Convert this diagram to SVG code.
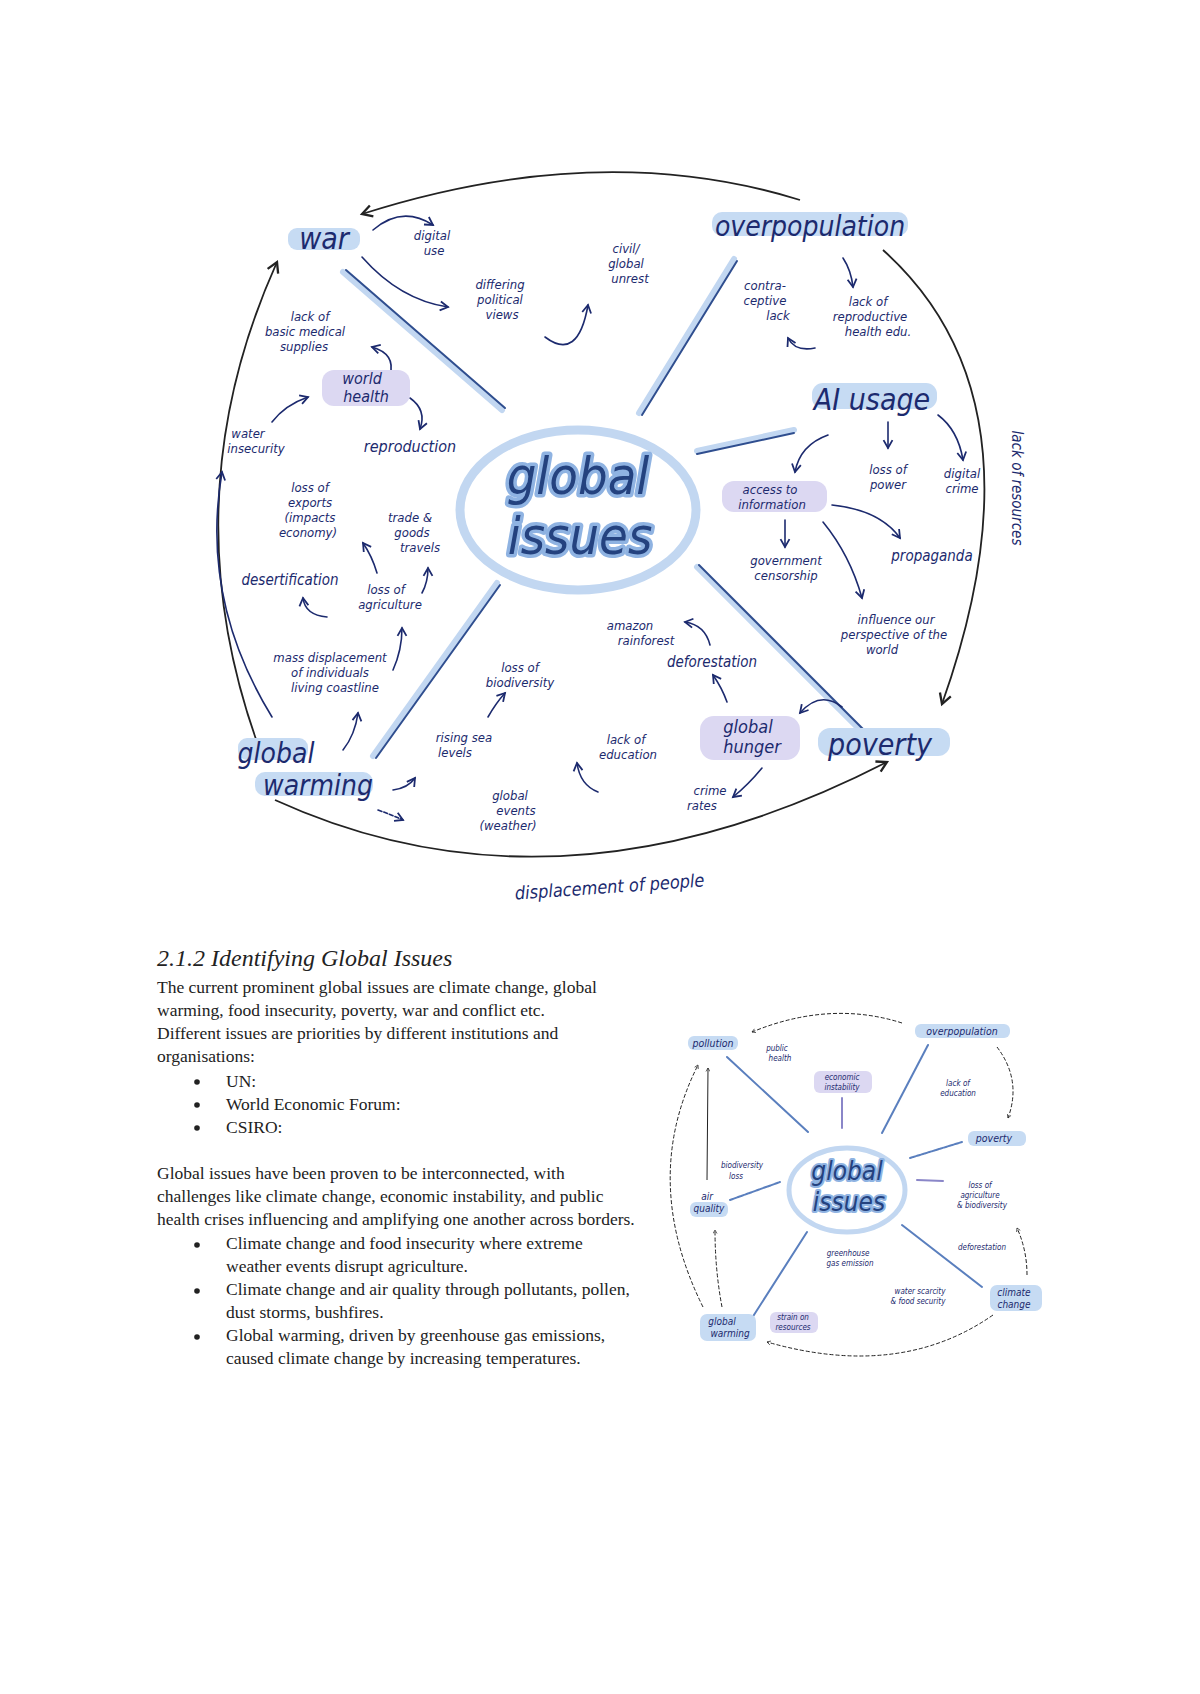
<svg xmlns="http://www.w3.org/2000/svg" width="1200" height="1694" viewBox="0 0 1200 1694">
<defs>
<style>
.hw{font-family:"Liberation Sans Narrow","DejaVu Sans Condensed","Liberation Sans",sans-serif;fill:#1c2a6e;font-style:italic}
.s{font-size:13px}
.xs{font-size:8px}
.big{font-size:30px}
.ctr{font-family:"Liberation Sans Narrow","DejaVu Sans Condensed",sans-serif;font-style:italic;fill:#24427f;stroke:#8fb3e2;stroke-width:7px;paint-order:stroke;stroke-linejoin:round}
.hb{fill:#c6dbf3}
.hp{fill:#dcd8f2}
.ln{fill:none;stroke:#1c2a6e;stroke-width:1.6;stroke-linecap:round}
.lk{fill:none;stroke:#222;stroke-width:1.8}
.dl{fill:none;stroke:#222;stroke-width:1;stroke-dasharray:4 2}
.spl{stroke:#c2d7f1;stroke-width:6;stroke-linecap:round}
.spd{stroke:#2f4e8f;stroke-width:2;stroke-linecap:round}
.body{font-family:"Liberation Serif",serif;font-size:17.5px;fill:#222}
</style>
<marker id="ah" viewBox="0 0 10 10" refX="8" refY="5" markerWidth="7" markerHeight="7" orient="auto-start-reverse"><path d="M1,1 L8,5 L1,9" fill="none" stroke="#1c2a6e" stroke-width="1.6"/></marker>
<marker id="ak" viewBox="0 0 10 10" refX="8" refY="5" markerWidth="8" markerHeight="8" orient="auto-start-reverse"><path d="M1,1 L8,5 L1,9" fill="none" stroke="#222" stroke-width="1.6"/></marker>
<marker id="as" viewBox="0 0 10 10" refX="8" refY="5" markerWidth="5" markerHeight="5" orient="auto-start-reverse"><path d="M1,1 L8,5 L1,9" fill="none" stroke="#222" stroke-width="1.4"/></marker>
</defs>
<rect width="1200" height="1694" fill="#fff"/>

<g id="connectors">
<path class="lk" d="M800,200 Q600,138 362,214" marker-end="url(#ak)"/>
<path class="lk" d="M883,250 Q1050,400 942,704" marker-end="url(#ak)"/>
<path class="lk" d="M275,800 Q560,930 887,762" marker-end="url(#ak)"/>
<path class="lk" d="M258,745 Q170,500 277,262" marker-end="url(#ak)"/>
<path class="ln" d="M272,717 Q200,600 222,472" marker-end="url(#ah)"/>
<g>
<line class="spl" x1="343" y1="272" x2="502" y2="410"/><line class="spd" x1="346" y1="270" x2="505" y2="408"/>
<line class="spl" x1="734" y1="259" x2="639" y2="413"/><line class="spd" x1="737" y1="261" x2="642" y2="415"/>
<line class="spl" x1="794" y1="430" x2="697" y2="451"/><line class="spd" x1="794" y1="433" x2="697" y2="454"/>
<line class="spl" x1="697" y1="567" x2="864" y2="734"/><line class="spd" x1="699" y1="565" x2="866" y2="732"/>
<line class="spl" x1="497" y1="583" x2="373" y2="756"/><line class="spd" x1="500" y1="585" x2="376" y2="758"/>
</g>
<path class="ln" d="M373,230 Q402,205 433,225" marker-end="url(#ah)"/>
<path class="ln" d="M362,257 Q400,300 448,307" marker-end="url(#ah)"/>
<path class="ln" d="M545,337 Q578,362 588,305" marker-end="url(#ah)"/>
<path class="ln" d="M390,375 Q396,354 372,347" marker-end="url(#ah)"/>
<path class="ln" d="M410,398 Q427,410 420,429" marker-end="url(#ah)"/>
<path class="ln" d="M272,422 Q285,405 308,397" marker-end="url(#ah)"/>
<path class="ln" d="M377,573 Q372,556 363,543" marker-end="url(#ah)"/>
<path class="ln" d="M422,593 Q428,582 428,568" marker-end="url(#ah)"/>
<path class="ln" d="M327,617 Q305,615 303,598" marker-end="url(#ah)"/>
<path class="ln" d="M393,670 Q402,650 402,628" marker-end="url(#ah)"/>
<path class="ln" d="M343,750 Q355,735 358,713" marker-end="url(#ah)"/>
<path class="ln" d="M488,717 Q496,703 505,693" marker-end="url(#ah)"/>
<path class="ln" d="M393,790 Q408,788 415,778" marker-end="url(#ah)"/>
<path class="ln" d="M378,810 Q392,815 403,820" marker-end="url(#ah)" stroke-dasharray="4 2"/>
<path class="ln" d="M828,435 Q800,445 795,472" marker-end="url(#ah)"/>
<path class="ln" d="M888,422 L888,448" marker-end="url(#ah)"/>
<path class="ln" d="M938,415 Q958,430 963,460" marker-end="url(#ah)"/>
<path class="ln" d="M843,258 Q851,270 853,287" marker-end="url(#ah)"/>
<path class="ln" d="M815,348 Q795,352 788,338" marker-end="url(#ah)"/>
<path class="ln" d="M785,520 L785,547" marker-end="url(#ah)"/>
<path class="ln" d="M832,505 Q880,510 900,538" marker-end="url(#ah)"/>
<path class="ln" d="M823,522 Q850,555 862,598" marker-end="url(#ah)"/>
<path class="ln" d="M842,707 Q820,690 800,713" marker-end="url(#ah)"/>
<path class="ln" d="M727,702 Q722,688 713,675" marker-end="url(#ah)"/>
<path class="ln" d="M710,645 Q705,625 685,622" marker-end="url(#ah)"/>
<path class="ln" d="M762,768 Q748,785 733,797" marker-end="url(#ah)"/>
<path class="ln" d="M598,792 Q580,785 577,763" marker-end="url(#ah)"/>
</g>

<g id="center">
<ellipse cx="578" cy="510" rx="118" ry="80" fill="none" stroke="#c2d7f1" stroke-width="9"/>
<text class="ctr" x="578" y="494" font-size="52" text-anchor="middle">global</text>
<text class="ctr" x="580" y="554" font-size="52" text-anchor="middle">issues</text>
</g>

<g id="war"><rect class="hb" x="288" y="228" width="72" height="22" rx="9"/><text class="hw big" x="324" y="249" text-anchor="middle">war</text></g>
<g id="overpopulation"><rect class="hb" x="712" y="212" width="196" height="24" rx="10"/><text class="hw" font-size="28" x="810" y="236" text-anchor="middle">overpopulation</text></g>
<g id="ai-usage"><rect class="hb" x="812" y="383" width="125" height="26" rx="11"/><text class="hw big" x="872" y="410" text-anchor="middle">AI usage</text></g>
<g id="poverty"><rect class="hb" x="818" y="728" width="132" height="28" rx="12"/><text class="hw big" x="880" y="755" text-anchor="middle">poverty</text></g>
<g id="global-warming"><rect class="hb" x="238" y="738" width="70" height="22" rx="9"/><rect class="hb" x="255" y="772" width="118" height="24" rx="10"/><text class="hw" font-size="28" x="276" y="763" text-anchor="middle">global</text><text class="hw" font-size="28" x="318" y="795" text-anchor="middle">warming</text></g>
<g id="world-health"><rect class="hp" x="322" y="370" width="88" height="36" rx="12"/><text class="hw" font-size="16" x="362" y="384" text-anchor="middle">world</text><text class="hw" font-size="16" x="366" y="402" text-anchor="middle">health</text></g>
<g id="access-to-information"><rect class="hp" x="722" y="481" width="105" height="31" rx="12"/><text class="hw" font-size="13" x="770" y="494" text-anchor="middle">access to</text><text class="hw" font-size="13" x="772" y="509" text-anchor="middle">information</text></g>
<g id="global-hunger"><rect class="hp" x="700" y="716" width="100" height="44" rx="14"/><text class="hw" font-size="18" x="748" y="733" text-anchor="middle">global</text><text class="hw" font-size="18" x="752" y="753" text-anchor="middle">hunger</text></g>

<g id="sub-labels" class="hw s" text-anchor="middle">
<text x="432" y="240">digital</text><text x="434" y="255">use</text>
<text x="500" y="289">differing</text><text x="500" y="304">political</text><text x="502" y="319">views</text>
<text x="626" y="253">civil/</text><text x="626" y="268">global</text><text x="630" y="283">unrest</text>
<text x="310" y="321">lack of</text><text x="305" y="336">basic medical</text><text x="304" y="351">supplies</text>
<text x="248" y="438">water</text><text x="256" y="453">insecurity</text>
<text x="410" y="452" font-size="16">reproduction</text>
<text x="310" y="492">loss of</text><text x="310" y="507">exports</text><text x="310" y="522">(impacts</text><text x="308" y="537">economy)</text>
<text x="410" y="522">trade &amp;</text><text x="412" y="537">goods</text><text x="420" y="552">travels</text>
<text x="290" y="585" font-size="15">desertification</text>
<text x="386" y="594">loss of</text><text x="390" y="609">agriculture</text>
<text x="330" y="662">mass displacement</text><text x="330" y="677">of individuals</text><text x="335" y="692">living coastline</text>
<text x="520" y="672">loss of</text><text x="520" y="687">biodiversity</text>
<text x="464" y="742">rising sea</text><text x="455" y="757">levels</text>
<text x="510" y="800">global</text><text x="516" y="815">events</text><text x="508" y="830">(weather)</text>
<text x="630" y="630">amazon</text><text x="646" y="645">rainforest</text>
<text x="712" y="667" font-size="15">deforestation</text>
<text x="626" y="744">lack of</text><text x="628" y="759">education</text>
<text x="710" y="795">crime</text><text x="702" y="810">rates</text>
<text x="765" y="290">contra-</text><text x="765" y="305">ceptive</text><text x="778" y="320">lack</text>
<text x="868" y="306">lack of</text><text x="870" y="321">reproductive</text><text x="878" y="336">health edu.</text>
<text x="888" y="474">loss of</text><text x="888" y="489">power</text>
<text x="962" y="478">digital</text><text x="962" y="493">crime</text>
<text x="932" y="561" font-size="15">propaganda</text>
<text x="786" y="565">government</text><text x="786" y="580">censorship</text>
<text x="896" y="624">influence our</text><text x="894" y="639">perspective of the</text><text x="882" y="654">world</text>
</g>
<text class="hw" font-size="15" transform="translate(1012,488) rotate(90)" text-anchor="middle">lack of resources</text>
<text class="hw" font-size="18" transform="translate(610,893) rotate(-4)" text-anchor="middle">displacement of people</text>

<g id="text-block">
<text x="157" y="966" font-family="Liberation Serif,serif" font-size="24" font-style="italic" fill="#222">2.1.2  Identifying Global Issues</text>
<text class="body" x="157" y="993">The current prominent global issues are climate change, global</text>
<text class="body" x="157" y="1016">warming, food insecurity, poverty, war and conflict etc.</text>
<text class="body" x="157" y="1039">Different issues are priorities by different institutions and</text>
<text class="body" x="157" y="1062">organisations:</text>
<circle cx="197" cy="1082" r="2.8" fill="#222"/><text class="body" x="226" y="1087">UN:</text>
<circle cx="197" cy="1105" r="2.8" fill="#222"/><text class="body" x="226" y="1110">World Economic Forum:</text>
<circle cx="197" cy="1128" r="2.8" fill="#222"/><text class="body" x="226" y="1133">CSIRO:</text>
<text class="body" x="157" y="1179">Global issues have been proven to be interconnected, with</text>
<text class="body" x="157" y="1202">challenges like climate change, economic instability, and public</text>
<text class="body" x="157" y="1225">health crises influencing and amplifying one another across borders.</text>
<circle cx="197" cy="1245" r="2.8" fill="#222"/><text class="body" x="226" y="1249">Climate change and food insecurity where extreme</text>
<text class="body" x="226" y="1272">weather events disrupt agriculture.</text>
<circle cx="197" cy="1291" r="2.8" fill="#222"/><text class="body" x="226" y="1295">Climate change and air quality through pollutants, pollen,</text>
<text class="body" x="226" y="1318">dust storms, bushfires.</text>
<circle cx="197" cy="1337" r="2.8" fill="#222"/><text class="body" x="226" y="1341">Global warming, driven by greenhouse gas emissions,</text>
<text class="body" x="226" y="1364">caused climate change by increasing temperatures.</text>
</g>

<g id="small-connectors">
<path class="dl" d="M902,1023 Q830,1000 752,1032" marker-end="url(#as)"/>
<path class="dl" d="M997,1047 Q1022,1080 1008,1118" marker-end="url(#as)"/>
<path class="dl" d="M1027,1275 Q1027,1250 1017,1228" marker-end="url(#as)"/>
<path class="dl" d="M993,1315 Q900,1380 767,1342" marker-end="url(#as)"/>
<path class="dl" d="M703,1307 Q640,1180 698,1065" marker-end="url(#as)"/>
<path class="dl" d="M722,1307 Q715,1270 715,1230" marker-end="url(#as)"/>
<path fill="none" stroke="#222" stroke-width="1" d="M707,1180 L708,1068" marker-end="url(#as)"/>
<g stroke-linecap="round">
<line x1="727" y1="1057" x2="808" y2="1132" stroke="#5a7fbe" stroke-width="2"/>
<line x1="842" y1="1098" x2="842" y2="1128" stroke="#8a86c8" stroke-width="2"/>
<line x1="928" y1="1045" x2="882" y2="1133" stroke="#5a7fbe" stroke-width="2"/>
<line x1="962" y1="1142" x2="910" y2="1158" stroke="#5a7fbe" stroke-width="2" stroke-dasharray="3 1"/>
<line x1="943" y1="1181" x2="917" y2="1180" stroke="#8a86c8" stroke-width="2"/>
<line x1="982" y1="1287" x2="902" y2="1225" stroke="#5a7fbe" stroke-width="2"/>
<line x1="752" y1="1318" x2="807" y2="1232" stroke="#5a7fbe" stroke-width="2"/>
<line x1="730" y1="1200" x2="780" y2="1182" stroke="#5a7fbe" stroke-width="2" stroke-dasharray="3 1"/>
</g>
</g>
<g id="small-center">
<ellipse cx="847" cy="1190" rx="58" ry="42" fill="none" stroke="#c2d7f1" stroke-width="5"/>
<text class="ctr" x="847" y="1180" font-size="26" text-anchor="middle" style="stroke-width:4px">global</text>
<text class="ctr" x="849" y="1211" font-size="26" text-anchor="middle" style="stroke-width:4px">issues</text>
</g>
<g class="hw xs" text-anchor="middle">
<g id="s-pollution"><rect class="hb" x="688" y="1036" width="50" height="14" rx="6"/><text x="713" y="1047" font-size="10.5">pollution</text></g>
<text x="777" y="1051">public</text><text x="780" y="1061">health</text>
<g id="s-economic"><rect class="hp" x="814" y="1071" width="58" height="22" rx="6"/><text x="842" y="1080">economic</text><text x="842" y="1090">instability</text></g>
<g id="s-overpop"><rect class="hb" x="915" y="1024" width="95" height="14" rx="6"/><text x="962" y="1035" font-size="10.5">overpopulation</text></g>
<text x="958" y="1086">lack of</text><text x="958" y="1096">education</text>
<g id="s-poverty"><rect class="hb" x="968" y="1131" width="58" height="15" rx="6"/><text x="994" y="1142" font-size="10.5">poverty</text></g>
<text x="980" y="1188">loss of</text><text x="980" y="1198">agriculture</text><text x="982" y="1208">&amp; biodiversity</text>
<text x="982" y="1250">deforestation</text>
<g id="s-climate"><rect class="hb" x="990" y="1285" width="52" height="26" rx="7"/><text x="1014" y="1296" font-size="10">climate</text><text x="1014" y="1308" font-size="10">change</text></g>
<text x="920" y="1294">water scarcity</text><text x="918" y="1304">&amp; food security</text>
<text x="848" y="1256">greenhouse</text><text x="850" y="1266">gas emission</text>
<g id="s-strain"><rect class="hp" x="770" y="1312" width="48" height="21" rx="6"/><text x="793" y="1320">strain on</text><text x="793" y="1330">resources</text></g>
<g id="s-global-warming"><rect class="hb" x="700" y="1314" width="56" height="27" rx="7"/><text x="722" y="1325" font-size="10">global</text><text x="730" y="1337" font-size="10">warming</text></g>
<g id="s-air"><rect class="hb" x="690" y="1202" width="38" height="15" rx="6"/><text x="707" y="1200" font-size="10">air</text><text x="709" y="1212" font-size="10">quality</text></g>
<text x="742" y="1168">biodiversity</text><text x="736" y="1179">loss</text>
</g>
</svg>
